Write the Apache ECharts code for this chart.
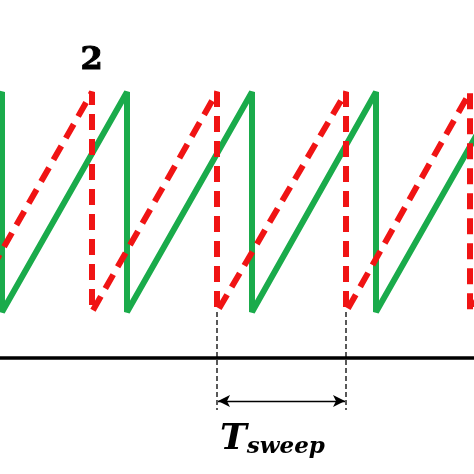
<!DOCTYPE html><html><head><meta charset="utf-8"><script src="https://cdn.jsdelivr.net/npm/echarts@6/dist/echarts.min.js"></script></head><body style="margin:0"><div id="c" style="width:474px;height:474px"></div><script>
const redX=[-33,92,217,346,470,595];
const greenX=[-123,2,127,252,376,501];
const yTop=92, yBot=312;
function saw(xs){const d=[[xs[0],yBot]];for(let i=1;i<xs.length;i++){d.push([xs[i],yTop]);d.push([xs[i],yBot]);}return d;}
const redData=saw(redX), greenData=saw(greenX);
const chart=echarts.init(document.getElementById('c'));
chart.setOption({animation:false,backgroundColor:'#fff',
grid:{left:0,right:0,top:0,bottom:0},
xAxis:{type:'value',min:0,max:474,show:false},
yAxis:{type:'value',min:0,max:474,inverse:true,show:false},
series:[
{type:'line',data:greenData,symbol:'none',lineStyle:{color:'#1aab4b',width:6},z:2},
{type:'line',data:redData,symbol:'none',lineStyle:{color:'#f01414',width:6,type:[16,9]},z:3},
{type:'line',data:[[0,358],[474,358]],symbol:'none',lineStyle:{color:'#000',width:3.5},
 markLine:{silent:true,symbol:['arrow','arrow'],symbolSize:[9,12],label:{show:false},
  lineStyle:{color:'#000',width:1.3,type:'solid'},
  data:[[{coord:[218,401]},{coord:[345,401]}]]}},
{type:'line',data:[[217,312],[217,410]],symbol:'none',lineStyle:{color:'#000',width:1.3,type:[5,3]}},
{type:'line',data:[[346,312],[346,410]],symbol:'none',lineStyle:{color:'#000',width:1.3,type:[5,3]}}
],
graphic:[
{type:'text',left:80,top:44,style:{text:'2',font:'bold 32px "DejaVu Serif"',fill:'#000',stroke:'#000',lineWidth:1}},
{type:'text',left:220,top:422,style:{text:'{a|T}{b|sweep}',rich:{a:{font:'bold italic 36px "DejaVu Serif"',fill:'#000'},b:{font:'bold italic 23px "DejaVu Serif"',fill:'#000',padding:[14,0,0,0]}}}}
]});
</script></body></html>
